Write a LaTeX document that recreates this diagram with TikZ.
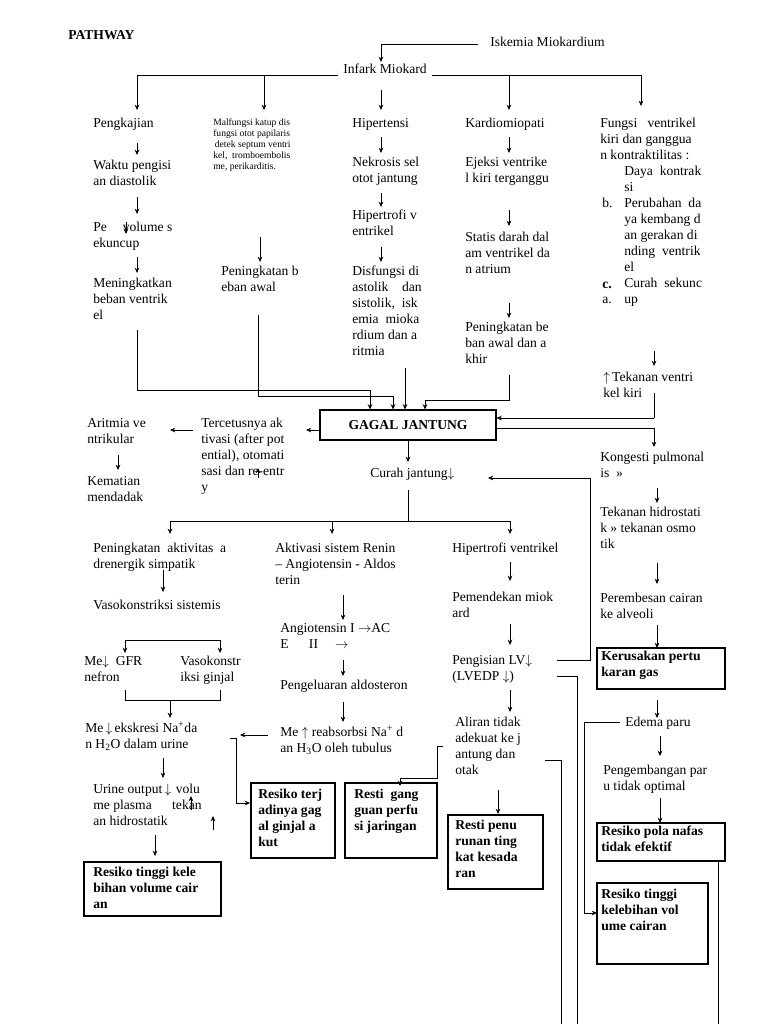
\documentclass[tikz,border=0pt]{standalone}
\usepackage{fontspec}
\setmainfont{Liberation Serif}
\usetikzlibrary{arrows.meta}
\begin{document}
\begin{tikzpicture}[x=0.75pt,y=-0.75pt,
 t/.style={anchor=north west,inner sep=0pt,align=left,font=\fontsize{10.2}{12}\selectfont},
 tb/.style={t,font=\bfseries\fontsize{10.2}{12}\selectfont},
 sm/.style={anchor=north west,inner sep=0pt,align=left,font=\fontsize{7.2}{8.3}\selectfont},
 bx/.style={line width=0.8pt},
 ar/.style={-{Stealth[length=4pt,width=3.5pt]},line width=0.6pt},
 ln/.style={line width=0.6pt}]
\useasboundingbox (0,0) rectangle (768,1024);
\fill[white] (0,0) rectangle (768,1024);
\newcommand\dn{$\downarrow$}
\newcommand\up{$\uparrow$}
% titles
\node[tb] (pw) at (68,30) {PATHWAY};
\node[t] (isk) at (490,37) {Iskemia Miokardium};
\draw[ln] (478,44) -- (381,44); \draw[ar] (381,44) -- (381,62);
\node[t] (inf) at (343,64) {Infark Miokard};
\draw[ln] (338,75) -- (137,75); \draw[ar] (137,75) -- (137,110); \draw[ar] (264,75) -- (264,110);
\draw[ln] (432,75) -- (641,75); \draw[ar] (641,75) -- (641,106); \draw[ar] (509,75) -- (509,110);
\draw[ar] (381,90) -- (381,110);
% column 1
\node[t] (pk) at (93,118) {Pengkajian};
\draw[ar] (137,143) -- (137,155);
\node[t] (wk) at (93,160) {Waktu pengisi\\an diastolik};
\draw[ar] (137,197) -- (137,214);
\node[t] (pv) at (93,222) {Pe\hspace{12pt}volume s\\ekuncup};
\draw[ar] (126,222) -- (126,234);
\draw[ar] (137,257) -- (137,273);
\node[t] (mb) at (93,278) {Meningkatkan\\beban ventrik\\el};
% column 2
\node[sm] (mf) at (213,118) {Malfungsi katup dis\\fungsi otot papilaris\\ \,detek septum ventri\\kel, \ tromboembolis\\me, perikarditis.};
\draw[ar] (260,237) -- (260,262);
\node[t] (pb) at (221,266) {Peningkatan b\\eban awal};
% column 3
\node[t] (hp) at (352,118) {Hipertensi};
\draw[ar] (381,137) -- (381,153);
\node[t] (nk) at (352,157) {Nekrosis sel\\otot jantung};
\draw[ar] (381,193) -- (381,207);
\node[t] (ht) at (352,210) {Hipertrofi v\\entrikel};
\draw[ar] (381,247) -- (381,262);
\node[t] (ds) at (352,266) {Disfungsi di\\astolik \ \ \ dan\\sistolik, \ isk\\emia \ mioka\\rdium dan a\\ritmia};
% column 4
\node[t] (km) at (465,118) {Kardiomiopati};
\draw[ar] (509,137) -- (509,153);
\node[t] (ej) at (465,157) {Ejeksi ventrike\\l kiri terganggu};
\draw[ar] (509,210) -- (509,226);
\node[t] (st) at (465,232) {Statis darah dal\\am ventrikel da\\n atrium};
\draw[ar] (509,303) -- (509,318);
\node[t] (pa) at (465,322) {Peningkatan be\\ban awal dan a\\khir};
% column 5
\node[t] (fv) at (600,118) {Fungsi \ \ ventrikel\\kiri dan ganggua\\n kontraktilitas :};
\node[t] (li) at (624,166) {Daya \ kontrak\\si\\Perubahan \ da\\ya kembang d\\an gerakan di\\nding \ ventrik\\el\\Curah \ sekunc\\up};
\node[t,anchor=base west] (la) at (li.base west -| 602,0) {a.};
\node[t] (lb) at (602,198) {b.};
\node[tb] (lc) at (602,282) {c.};
\draw[ar] (654,351) -- (654,366);
\node[t] (tv) at (603,372) {\up\,Tekanan ventri\\kel kiri};
% gagal jantung
\node[draw,line width=0.8pt,minimum width=132pt,minimum height=22.5pt,inner sep=0pt,font=\bfseries\fontsize{10.2}{12}\selectfont] (gj) at (408,425) {GAGAL JANTUNG};
\draw[ln] (137,330) -- (137,390) -- (370,390); \draw[ar] (370,390) -- (gj.north -| 370,0);
\draw[ln] (258,315) -- (258,396) -- (393,396); \draw[ar] (393,396) -- (gj.north -| 393,0);
\draw[ar] (405,368) -- (gj.north -| 405,0);
\draw[ln] (509,375) -- (509,400) -- (425,400); \draw[ar] (425,400) -- (gj.north -| 425,0);
\draw[ln] (654,393) -- (654,418); \draw[ar] (654,418) -- (gj.east |- 0,418);
\draw[ln] (gj.east |- 0,428) -- (654,428); \draw[ar] (654,428) -- (654,447);
% left of gagal
\draw[ar] (gj.west |- 0,430) -- (306,430);
\node[t] (tc) at (201,418) {Tercetusnya ak\\tivasi (after pot\\ential), otomati\\sasi dan re-entr\\y};
\draw[ar] (258,478) -- (258,468);
\draw[ar] (193,430) -- (170,430);
\node[t] (ak) at (87,418) {Aritmia ve\\ntrikular};
\draw[ar] (118,455) -- (118,470);
\node[t] (kt) at (87,476) {Kematian\\mendadak};
% curah
\draw[ar] (gj.south) -- (408,462);
\node[t] (cj) at (370,468) {Curah jantung\dn};
\draw[ln] (408,490) -- (408,521);
\draw[ln] (170,521) -- (510,521);
\draw[ar] (170,521) -- (170,534); \draw[ar] (332,521) -- (332,534); \draw[ar] (510,521) -- (510,534);
% left branch
\node[t] (pas) at (93,543) {Peningkatan \ aktivitas \ a\\drenergik simpatik};
\draw[ar] (163,570) -- (163,592);
\node[t] (vs) at (93,600) {Vasokonstriksi sistemis};
\draw[ln] (125,640) -- (220,640); \draw[ar] (125,640) -- (125,653); \draw[ar] (220,640) -- (220,653);
\node[t] (gfr) at (84,656) {Me\dn\ \ GFR\\nefron};
\node[t] (vg) at (180,656) {Vasokonstr\\iksi ginjal};
\draw[ln] (125,690) -- (125,700) -- (220,700) -- (220,690); \draw[ar] (170,700) -- (170,718);
\node[t] (ek) at (85,722) {Me\,\dn\,ekskresi Na\textsuperscript{+}da\\n H\textsubscript{2}O dalam urine};
\draw[ar] (163,758) -- (163,778);
\node[t] (uo) at (93,784) {Urine output\,\dn\,\,volu\\me plasma \ \ \ \ \ tekan\\an hidrostatik};
\draw[ar] (191,810) -- (191,796);
\draw[ar] (213,830) -- (213,816);
\draw[ar] (155,835) -- (155,856);
\draw[bx] (84,862) rectangle (221,916);
\node[tb] (b1) at (93,867) {Resiko tinggi kele\\bihan volume cair\\an};
% middle branch
\node[t] (ras) at (275,543) {Aktivasi sistem Renin\\– Angiotensin - Aldos\\terin};
\draw[ar] (343,595) -- (343,620);
\node[t] (ang) at (280,623) {Angiotensin I $\rightarrow$AC\\E \ \ \ \ \ II \ \ \ \ $\rightarrow$};
\draw[ar] (343,660) -- (343,676);
\node[t] (al) at (280,680) {Pengeluaran aldosteron};
\draw[ar] (343,702) -- (343,722);
\node[t] (ra) at (280,726) {Me \up\ reabsorbsi Na\textsuperscript{+} d\\an H\textsubscript{3}O oleh tubulus};
\draw[ar] (268,735) -- (240,735);
\draw[ln] (230,738) -- (236,738) -- (236,803); \draw[ar] (236,803) -- (250,803);
\draw[bx] (251,783) rectangle (335,858);
\node[tb] (b2) at (258,789) {Resiko terj\\adinya gag\\al ginjal a\\kut};
\draw[bx] (345,783) rectangle (437,858);
\node[tb] (b3) at (354,789) {Resti \ gang\\guan perfu\\si jaringan};
% right-middle branch
\node[t] (hv) at (452,543) {Hipertrofi ventrikel};
\draw[ar] (510,562) -- (510,581);
\node[t] (pm) at (452,592) {Pemendekan miok\\ard};
\draw[ar] (510,624) -- (510,645);
\node[t] (pl) at (452,655) {Pengisian LV\dn\\(LVEDP \dn)};
\draw[ar] (510,690) -- (510,712);
\node[t] (at) at (455,717) {Aliran tidak\\adekuat ke j\\antung dan\\otak};
\draw[ln] (443,746) -- (437,746) -- (437,778) -- (400,778); \draw[ar] (400,778) -- (400,786);
\draw[ar] (498,790) -- (498,814);
\draw[bx] (448,815) rectangle (543,889);
\node[tb] (b4) at (455,820) {Resti penu\\runan ting\\kat kesada\\ran};
\draw[ln] (557,660) -- (590,660) -- (590,478); \draw[ar] (590,478) -- (488,478);
\draw[ln] (557,676) -- (577,676) -- (577,1024);
\draw[ln] (545,760) -- (561,760) -- (561,1024);
% right column
\node[t] (kp) at (600,452) {Kongesti pulmonal\\is \ >>};
\draw[ar] (657,488) -- (657,503);
\node[t] (th) at (600,507) {Tekanan hidrostati\\k >> tekanan osmo\\tik};
\draw[ar] (657,563) -- (657,584);
\node[t] (pc) at (600,593) {Perembesan cairan\\ke alveoli};
\draw[ar] (657,625) -- (657,648);
\draw[bx] (597,648) rectangle (725,689);
\node[tb] (b5) at (601,651) {Kerusakan pertu\\karan gas};
\draw[ar] (657,700) -- (657,718);
\node[t] (ep) at (625,717) {Edema paru};
\draw[ln] (620,722) -- (584,722) -- (584,913); \draw[ar] (584,913) -- (597,913);
\draw[ar] (660,736) -- (660,756);
\node[t] (pp) at (603,765) {Pengembangan par\\u tidak optimal};
\draw[ar] (660,798) -- (660,823);
\draw[bx] (597,823) rectangle (725,861);
\node[tb] (b6) at (601,826) {Resiko pola nafas\\tidak efektif};
\draw[bx] (597,883) rectangle (708,964);
\node[tb] (b7) at (601,889) {Resiko tinggi\\kelebihan vol\\ume cairan};
\draw[ln] (718,861) -- (718,1024);
\end{tikzpicture}
\end{document}
